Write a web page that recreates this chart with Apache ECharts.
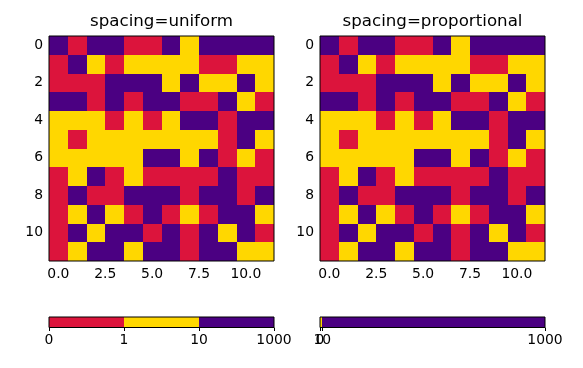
<!DOCTYPE html>
<html><head><meta charset="utf-8">
<script src="https://cdn.jsdelivr.net/npm/echarts@6/dist/echarts.min.js"></script>
<style>html,body{margin:0;padding:0;background:#fff}#c{width:583px;height:368px}</style>
</head><body><div id="c"></div>
<script>
// Colour bounds and colours (BoundaryNorm style)
const bounds = [0, 1, 10, 1000];
const boundLabels = ['0', '1', '10', '1000'];
const cmapColors = ['#DC143C', '#FFD700', '#4B0082'];
// axis ticks
const xTicks = [0, 2.5, 5, 7.5, 10];
const xTickLabels = ['0.0', '2.5', '5.0', '7.5', '10.0'];
const yTicks = [0, 2, 4, 6, 8, 10];
const titles = ['spacing=uniform', 'spacing=proportional'];
// cell values (R = 0..1, Y = 1..10, P = 10..1000)
const row0  = [100, 0.5, 100, 100, 0.5, 0.5, 100, 5, 100, 100, 100, 100];
const row1  = [0.5, 100, 5, 0.5, 5, 5, 5, 5, 0.5, 0.5, 5, 5];
const row2  = [0.5, 0.5, 0.5, 100, 100, 100, 5, 100, 5, 5, 100, 5];
const row3  = [100, 100, 0.5, 100, 0.5, 100, 100, 0.5, 0.5, 100, 5, 0.5];
const row4  = [5, 5, 5, 0.5, 5, 0.5, 5, 100, 100, 0.5, 100, 100];
const row5  = [5, 0.5, 5, 5, 5, 5, 5, 5, 5, 0.5, 100, 5];
const row6  = [5, 5, 5, 5, 5, 100, 100, 5, 100, 0.5, 5, 0.5];
const row7  = [0.5, 5, 100, 0.5, 5, 0.5, 0.5, 0.5, 0.5, 100, 0.5, 0.5];
const row8  = [0.5, 100, 0.5, 0.5, 100, 100, 100, 0.5, 100, 100, 0.5, 100];
const row9  = [0.5, 5, 100, 5, 0.5, 100, 0.5, 5, 0.5, 100, 100, 5];
const row10 = [0.5, 100, 5, 100, 100, 0.5, 100, 0.5, 100, 5, 100, 0.5];
const row11 = [0.5, 5, 100, 100, 5, 100, 100, 0.5, 100, 100, 5, 5];
const rows = [row0, row1, row2, row3, row4, row5, row6, row7, row8, row9, row10, row11];

const FONT = 'DejaVu Sans';
const cellData = [];
rows.forEach((r, i) => r.forEach((v, j) => cellData.push([j, i, v])));

const uniformBar = bounds.slice(0, -1).map((b, i) => [i, i + 1, (b + bounds[i + 1]) / 2]);
const propBar = bounds.slice(0, -1).map((b, i) => [b, bounds[i + 1], (b + bounds[i + 1]) / 2]);

function snapRect(p0, p1, c) {
  const x0 = Math.round(Math.min(p0[0], p1[0])), x1 = Math.round(Math.max(p0[0], p1[0]));
  const y0 = Math.round(Math.min(p0[1], p1[1])), y1 = Math.round(Math.max(p0[1], p1[1]));
  return {type: 'rect', shape: {x: x0, y: y0, width: x1 - x0, height: y1 - y0}, style: {fill: c}};
}
function cellItem(params, api) {
  const x = api.value(0), y = api.value(1);
  return snapRect(api.coord([x - 0.5, y - 0.5]), api.coord([x + 0.5, y + 0.5]), api.visual('color'));
}
function barItem(params, api) {
  return snapRect(api.coord([api.value(0), 1]), api.coord([api.value(1), 0]), api.visual('color'));
}

const gridBase = {show: true, z: 10, backgroundColor: 'transparent', borderColor: '#000', borderWidth: 1, containLabel: false};
const tickStyle = {show: true, length: 3.5, lineStyle: {color: '#000', width: 1}};
const labelStyle = {color: '#000', fontFamily: FONT, fontSize: 13.9, margin: 6};

function heatX(gi) {
  return {type: 'value', gridIndex: gi, min: -0.5, max: 11.5, axisLine: {show: false}, splitLine: {show: false},
    axisTick: Object.assign({customValues: xTicks}, tickStyle),
    axisLabel: Object.assign({customValues: xTicks, formatter: v => xTickLabels[xTicks.indexOf(v)]}, labelStyle)};
}
function heatY(gi) {
  return {type: 'value', gridIndex: gi, min: -0.5, max: 11.5, inverse: true, axisLine: {show: false}, splitLine: {show: false},
    axisTick: Object.assign({customValues: yTicks}, tickStyle),
    axisLabel: Object.assign({customValues: yTicks, formatter: v => String(v)}, labelStyle)};
}
const uniformTicks = bounds.map((b, i) => i);
function barX(gi, proportional) {
  const vals = proportional ? bounds : uniformTicks;
  return {type: 'value', gridIndex: gi, min: vals[0], max: vals[vals.length - 1], axisLine: {show: false}, splitLine: {show: false},
    axisTick: Object.assign({customValues: vals}, tickStyle),
    axisLabel: Object.assign({customValues: vals, hideOverlap: false, showMinLabel: true, showMaxLabel: true,
      formatter: v => boundLabels[vals.indexOf(v)]}, labelStyle)};
}
function barY(gi) {
  return {type: 'value', gridIndex: gi, min: 0, max: 1, show: false};
}

const option = {
  animation: false,
  backgroundColor: '#fff',
  title: [
    {text: titles[0], left: 161.5, top: 13, textAlign: 'center', padding: 0, textStyle: {fontFamily: FONT, fontSize: 16.67, fontWeight: 'normal', color: '#000'}},
    {text: titles[1], left: 432.5, top: 13, textAlign: 'center', padding: 0, textStyle: {fontFamily: FONT, fontSize: 16.67, fontWeight: 'normal', color: '#000'}}
  ],
  grid: [
    Object.assign({left: 49, top: 36, width: 225, height: 225}, gridBase),
    Object.assign({left: 320, top: 36, width: 225, height: 225}, gridBase),
    Object.assign({left: 49, top: 317, width: 225, height: 10.5}, gridBase),
    Object.assign({left: 320, top: 317, width: 225, height: 10.5}, gridBase)
  ],
  xAxis: [heatX(0), heatX(1), barX(2, false), barX(3, true)],
  yAxis: [heatY(0), heatY(1), barY(2), barY(3)],
  visualMap: {
    type: 'piecewise', show: false, dimension: 2, seriesIndex: [0, 1, 2, 3],
    pieces: [
      {gte: bounds[0], lt: bounds[1], color: cmapColors[0]},
      {gte: bounds[1], lt: bounds[2], color: cmapColors[1]},
      {gte: bounds[2], lte: bounds[3], color: cmapColors[2]}
    ]
  },
  series: [
    {type: 'custom', xAxisIndex: 0, yAxisIndex: 0, data: cellData, renderItem: cellItem, encode: {x: 0, y: 1}, clip: true},
    {type: 'custom', xAxisIndex: 1, yAxisIndex: 1, data: cellData, renderItem: cellItem, encode: {x: 0, y: 1}, clip: true},
    {type: 'custom', xAxisIndex: 2, yAxisIndex: 2, data: uniformBar, renderItem: barItem, encode: {x: [0, 1]}},
    {type: 'custom', xAxisIndex: 3, yAxisIndex: 3, data: propBar, renderItem: barItem, encode: {x: [0, 1]}}
  ]
};
const chart = echarts.init(document.getElementById('c'), null, {renderer: 'canvas'});
chart.setOption(option);
</script></body></html>
